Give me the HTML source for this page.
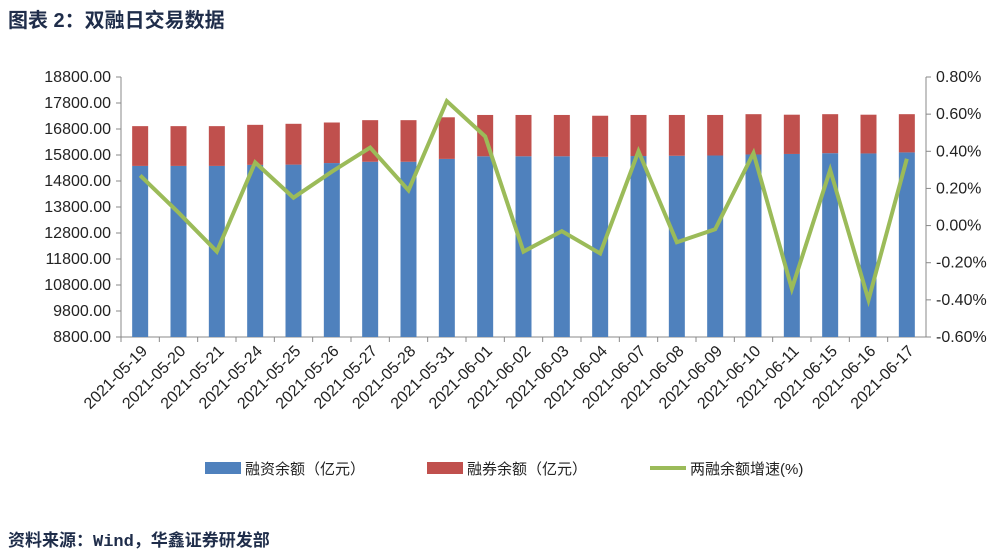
<!DOCTYPE html>
<html><head><meta charset="utf-8"><style>
body{margin:0;background:#fff;width:999px;height:556px;overflow:hidden;font-family:"Liberation Sans","Noto Sans CJK SC",sans-serif}
#title{position:absolute;left:8px;top:4px;font-size:20px;font-weight:bold;color:#1f2d4a}
#src{position:absolute;left:8px;top:526px;font-size:17px;font-weight:bold;color:#1f2d4a;font-family:"Liberation Mono","Noto Sans CJK SC",monospace}
svg{position:absolute;left:0;top:0}
</style></head><body>
<div id="title">图表 2：双融日交易数据</div>
<div id="src">资料来源：Wind，华鑫证券研发部</div>
<svg id="chart" width="999" height="556"></svg>
<script>
const categories=["2021-05-19","2021-05-20","2021-05-21","2021-05-24","2021-05-25","2021-05-26","2021-05-27","2021-05-28","2021-05-31","2021-06-01","2021-06-02","2021-06-03","2021-06-04","2021-06-07","2021-06-08","2021-06-09","2021-06-10","2021-06-11","2021-06-15","2021-06-16","2021-06-17"];
const financing=[15380,15380,15380,15420,15430,15490,15540,15540,15650,15750,15750,15750,15730,15760,15770,15780,15820,15840,15870,15860,15900];
const securities=[1530,1530,1530,1540,1570,1560,1600,1600,1600,1590,1590,1590,1580,1580,1570,1560,1550,1510,1500,1490,1470];
const growth=[0.27,0.07,-0.14,0.34,0.15,0.29,0.42,0.19,0.67,0.48,-0.14,-0.03,-0.15,0.40,-0.09,-0.02,0.39,-0.34,0.30,-0.40,0.36];
const leftTicks=[8800,9800,10800,11800,12800,13800,14800,15800,16800,17800,18800];
const rightTicks=[-0.6,-0.4,-0.2,0,0.2,0.4,0.6,0.8];
const svg=document.getElementById('chart');const NS='http://www.w3.org/2000/svg';
const X0=121,X1=926,Y0=337,Y1=77;
const yL=v=>Y0-(v-8800)/10000*(Y0-Y1);
const yR=v=>Y0-(v+0.6)/1.4*(Y0-Y1);
const step=(X1-X0)/categories.length;
const xC=i=>X0+step*(i+0.5);
function mk(t,a,p){const e=document.createElementNS(NS,t);for(const k in a)e.setAttribute(k,a[k]);(p||svg).appendChild(e);return e;}
let ax=mk('line',{x1:X0,y1:Y1,x2:X0,y2:Y0,stroke:'#888'});
let ax2=mk('line',{x1:X1,y1:Y1,x2:X1,y2:Y0,stroke:'#888'});
let ax3=mk('line',{x1:X0,y1:Y0,x2:X1,y2:Y0,stroke:'#888'});
leftTicks.forEach(v=>{const y=yL(v);mk('line',{x1:X0-5,y1:y,x2:X0,y2:y,stroke:'#888'});
 const t=mk('text',{x:X0-10,y:y+5,'text-anchor':'end','font-size':16,fill:'#222'});t.textContent=v.toFixed(2);
 });
rightTicks.forEach(v=>{const y=yR(v);mk('line',{x1:X1,y1:y,x2:X1+5,y2:y,stroke:'#888'});
 const t=mk('text',{x:X1+10,y:y+5,'font-size':16,fill:'#222'});t.textContent=v.toFixed(2)+'%';
 });
categories.forEach((c,i)=>{const x=X0+step*i;mk('line',{x1:x,y1:Y0,x2:x,y2:Y0+5,stroke:'#888'});
 const cx=xC(i);
 const b=mk('rect',{x:cx-8,y:yL(financing[i]),width:16,height:Y0-yL(financing[i]),fill:'#4f81bd'});
 
 const r=mk('rect',{x:cx-8,y:yL(financing[i]+securities[i]),width:16,height:yL(financing[i])-yL(financing[i]+securities[i]),fill:'#c0504d'});
 
 const t=mk('text',{x:cx+8,y:Y0+15,'text-anchor':'end','font-size':16,fill:'#222',transform:`rotate(-45 ${cx+8} ${Y0+15})`});t.textContent=c;
 });
const ln=mk('polyline',{points:growth.map((v,i)=>xC(i)+','+yR(v)).join(' '),fill:'none',stroke:'#9bbb59','stroke-width':4,'stroke-linejoin':'miter'});

const lg=[[205,'#4f81bd','融资余额（亿元）','rect'],[427,'#c0504d','融券余额（亿元）','rect'],[650,'#9bbb59','两融余额增速(%)','line']];
lg.forEach(([x,c,s,k])=>{const g=mk('g',{});
 if(k==='rect')mk('rect',{x:x,y:462,width:36,height:12,fill:c},g);else mk('line',{x1:x,y1:468,x2:x+36,y2:468,stroke:c,'stroke-width':4},g);
 const t=mk('text',{x:x+40,y:474,'font-size':15,fill:'#222'},g);t.textContent=s;});
</script>
</body></html>
